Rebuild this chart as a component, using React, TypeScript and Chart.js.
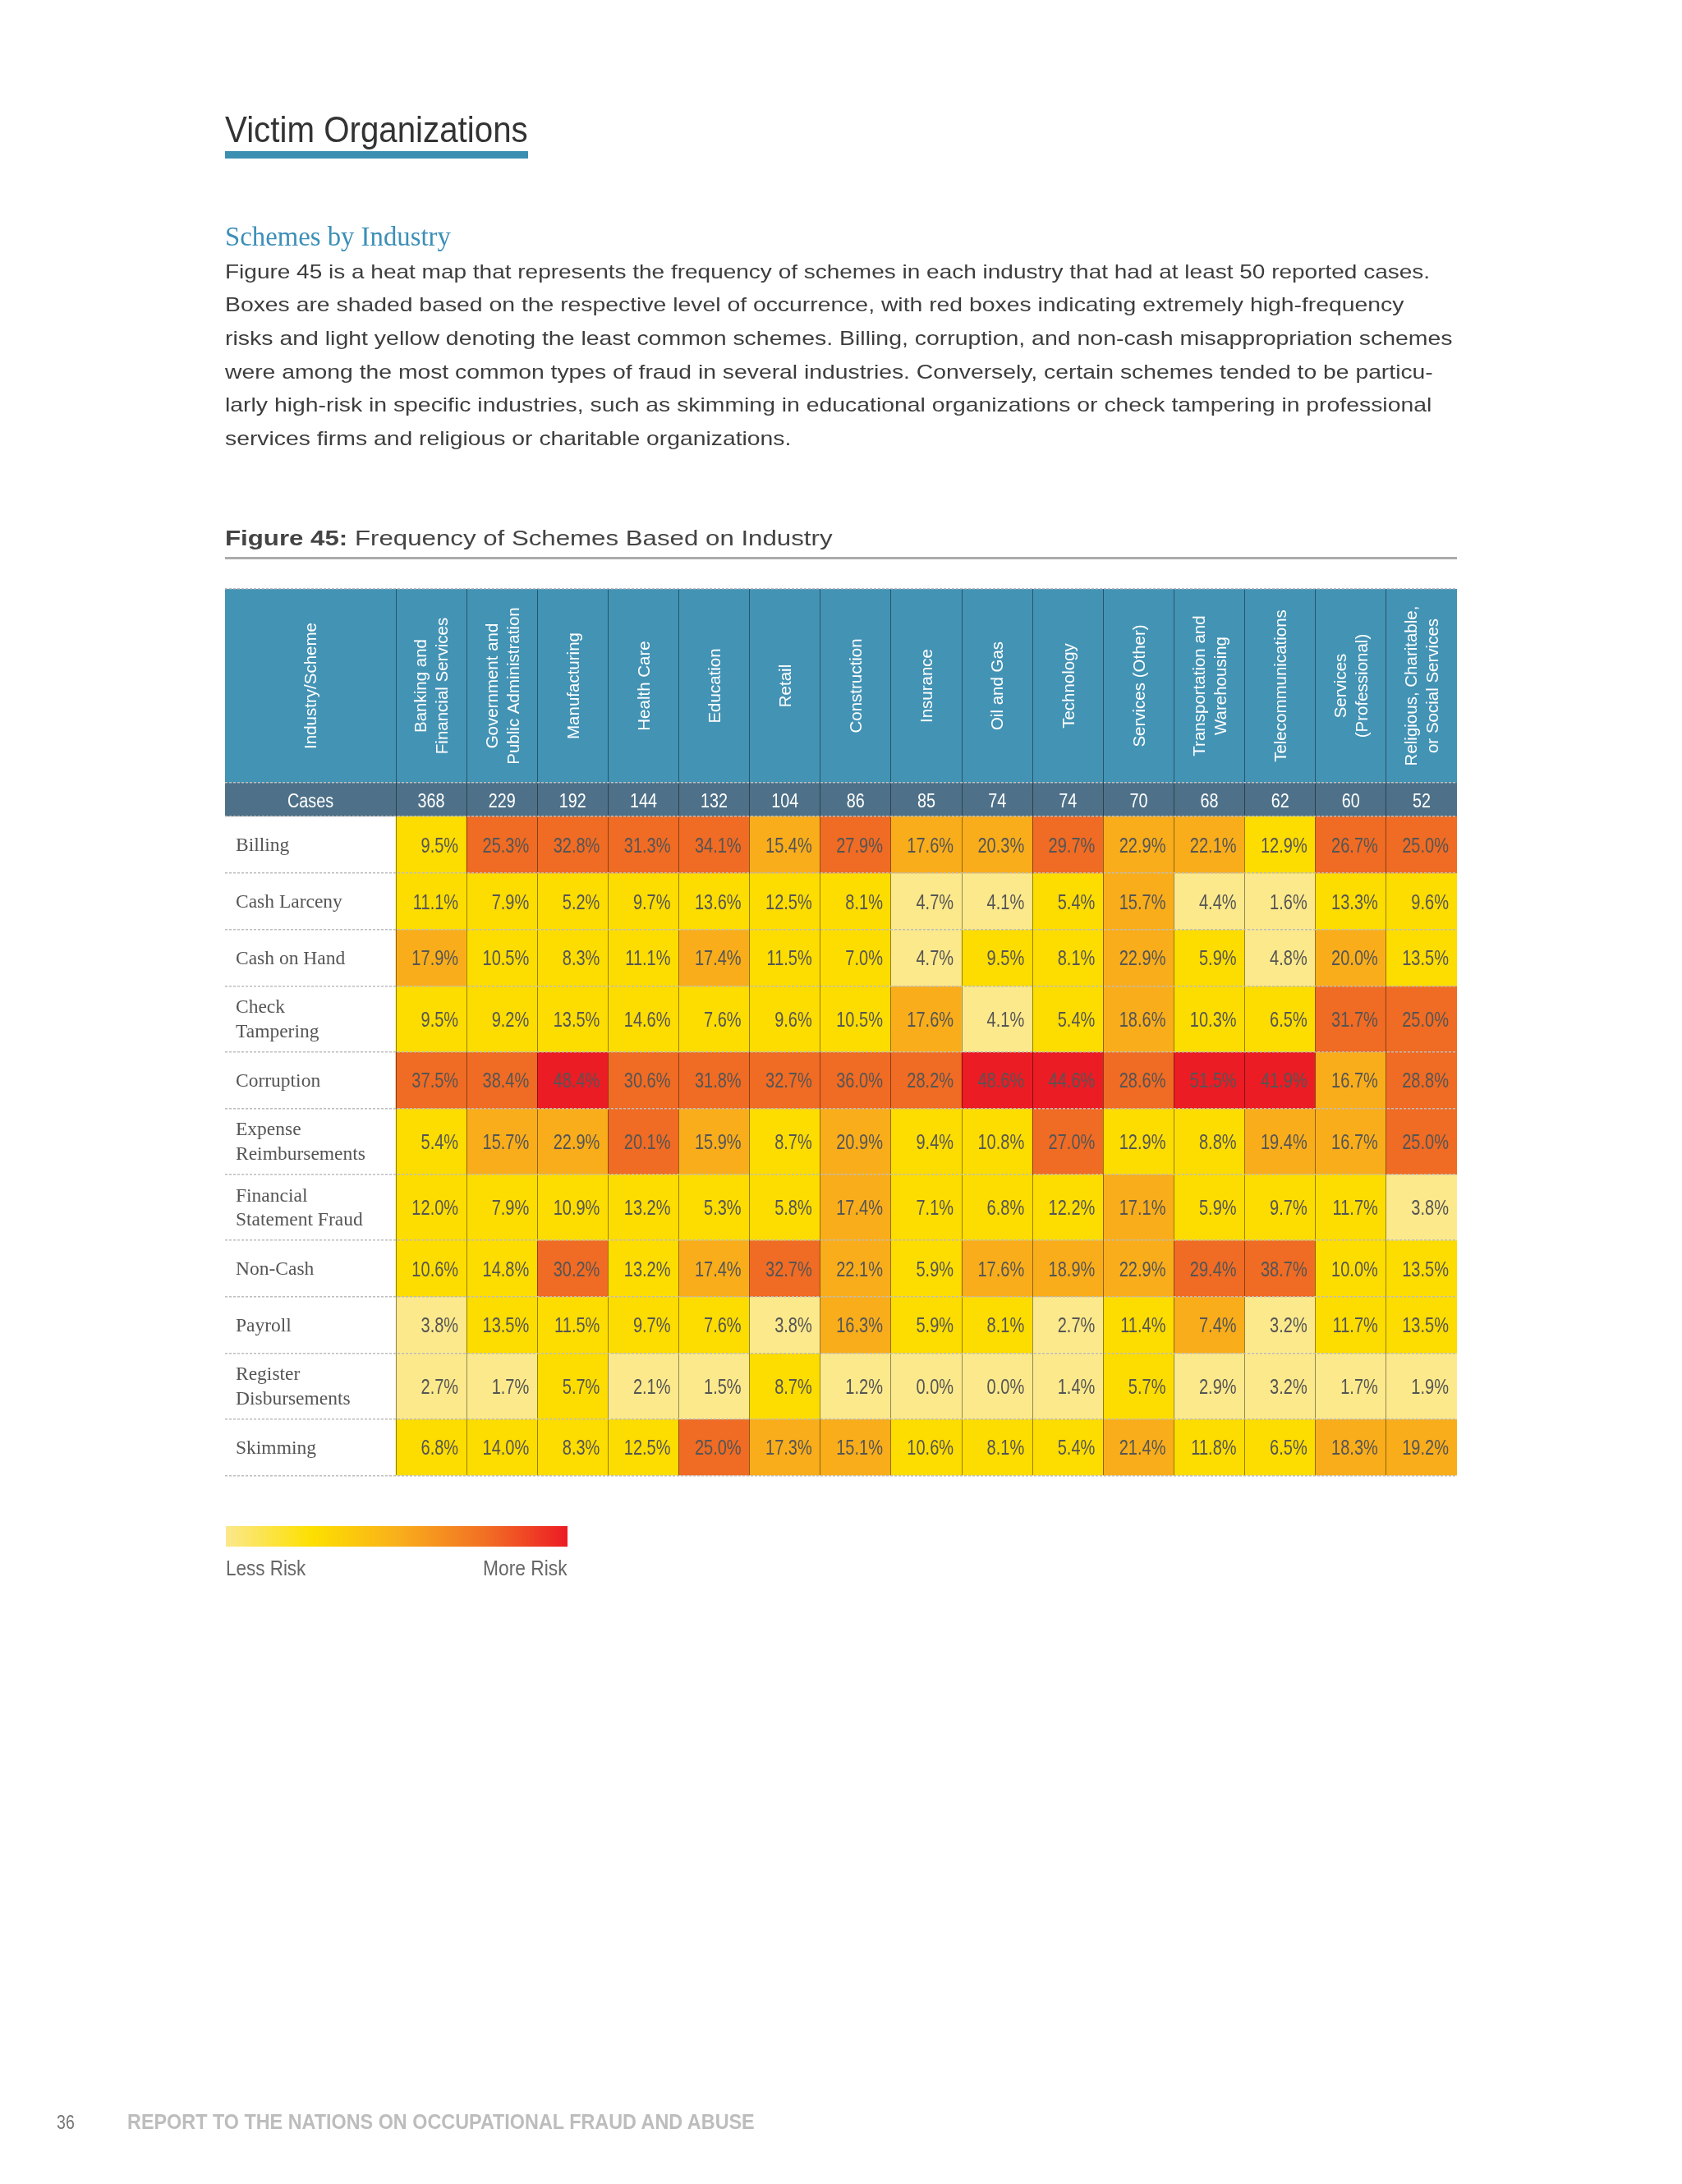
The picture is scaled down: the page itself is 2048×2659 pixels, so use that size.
import React, { useEffect, useLayoutEffect, useRef } from "react";
import { Chart, registerables } from "chart.js";

Chart.register(...registerables);

// ---------------- DATA ----------------
const industries: string[][] = [
  ["Banking and", "Financial Services"],
  ["Government and", "Public Administration"],
  ["Manufacturing"],
  ["Health Care"],
  ["Education"],
  ["Retail"],
  ["Construction"],
  ["Insurance"],
  ["Oil and Gas"],
  ["Technology"],
  ["Services (Other)"],
  ["Transportation and", "Warehousing"],
  ["Telecommunications"],
  ["Services", "(Professional)"],
  ["Religious, Charitable,", "or Social Services"],
];

const cases = [368, 229, 192, 144, 132, 104, 86, 85, 74, 74, 70, 68, 62, 60, 52];

const schemes: string[][] = [
  ["Billing"],
  ["Cash Larceny"],
  ["Cash on Hand"],
  ["Check", "Tampering"],
  ["Corruption"],
  ["Expense", "Reimbursements"],
  ["Financial", "Statement Fraud"],
  ["Non-Cash"],
  ["Payroll"],
  ["Register", "Disbursements"],
  ["Skimming"],
];

const billing = [9.5, 25.3, 32.8, 31.3, 34.1, 15.4, 27.9, 17.6, 20.3, 29.7, 22.9, 22.1, 12.9, 26.7, 25.0];
const cashLarceny = [11.1, 7.9, 5.2, 9.7, 13.6, 12.5, 8.1, 4.7, 4.1, 5.4, 15.7, 4.4, 1.6, 13.3, 9.6];
const cashOnHand = [17.9, 10.5, 8.3, 11.1, 17.4, 11.5, 7.0, 4.7, 9.5, 8.1, 22.9, 5.9, 4.8, 20.0, 13.5];
const checkTampering = [9.5, 9.2, 13.5, 14.6, 7.6, 9.6, 10.5, 17.6, 4.1, 5.4, 18.6, 10.3, 6.5, 31.7, 25.0];
const corruption = [37.5, 38.4, 48.4, 30.6, 31.8, 32.7, 36.0, 28.2, 48.6, 44.6, 28.6, 51.5, 41.9, 16.7, 28.8];
const expenseReimb = [5.4, 15.7, 22.9, 20.1, 15.9, 8.7, 20.9, 9.4, 10.8, 27.0, 12.9, 8.8, 19.4, 16.7, 25.0];
const financialStmt = [12.0, 7.9, 10.9, 13.2, 5.3, 5.8, 17.4, 7.1, 6.8, 12.2, 17.1, 5.9, 9.7, 11.7, 3.8];
const nonCash = [10.6, 14.8, 30.2, 13.2, 17.4, 32.7, 22.1, 5.9, 17.6, 18.9, 22.9, 29.4, 38.7, 10.0, 13.5];
const payroll = [3.8, 13.5, 11.5, 9.7, 7.6, 3.8, 16.3, 5.9, 8.1, 2.7, 11.4, 7.4, 3.2, 11.7, 13.5];
const registerDisb = [2.7, 1.7, 5.7, 2.1, 1.5, 8.7, 1.2, 0.0, 0.0, 1.4, 5.7, 2.9, 3.2, 1.7, 1.9];
const skimming = [6.8, 14.0, 8.3, 12.5, 25.0, 17.3, 15.1, 10.6, 8.1, 5.4, 21.4, 11.8, 6.5, 18.3, 19.2];

const values = [billing, cashLarceny, cashOnHand, checkTampering, corruption, expenseReimb, financialStmt, nonCash, payroll, registerDisb, skimming];

// shading level of each box (0 = least risk ... 4 = most risk)
const levelBilling = [1, 3, 3, 3, 3, 2, 3, 2, 2, 3, 2, 2, 1, 3, 3];
const levelCashLarceny = [1, 1, 1, 1, 1, 1, 1, 0, 0, 1, 2, 0, 0, 1, 1];
const levelCashOnHand = [2, 1, 1, 1, 2, 1, 1, 0, 1, 1, 2, 1, 0, 2, 1];
const levelCheck = [1, 1, 1, 1, 1, 1, 1, 2, 0, 1, 2, 1, 1, 3, 3];
const levelCorruption = [3, 3, 4, 3, 3, 3, 3, 3, 4, 4, 3, 4, 4, 2, 3];
const levelExpense = [1, 2, 2, 3, 2, 1, 2, 1, 1, 3, 1, 1, 2, 2, 3];
const levelFinancial = [1, 1, 1, 1, 1, 1, 2, 1, 1, 1, 2, 1, 1, 1, 0];
const levelNonCash = [1, 1, 3, 1, 2, 3, 2, 1, 2, 2, 2, 3, 3, 1, 1];
const levelPayroll = [0, 1, 1, 1, 1, 0, 2, 1, 1, 0, 1, 2, 0, 1, 1];
const levelRegister = [0, 0, 1, 0, 0, 1, 0, 0, 0, 0, 1, 0, 0, 0, 0];
const levelSkimming = [1, 1, 1, 1, 3, 2, 2, 1, 1, 1, 2, 1, 1, 2, 2];

const levels = [levelBilling, levelCashLarceny, levelCashOnHand, levelCheck, levelCorruption, levelExpense, levelFinancial, levelNonCash, levelPayroll, levelRegister, levelSkimming];

const riskColors = ["#FCE98C", "#FDDC00", "#F9AD1B", "#F06B23", "#EB1C24"];

const cornerLabel = "Industry/Scheme";
const casesLabel = "Cases";

const paragraph = [
  "Figure 45 is a heat map that represents the frequency of schemes in each industry that had at least 50 reported cases.",
  "Boxes are shaded based on the respective level of occurrence, with red boxes indicating extremely high-frequency",
  "risks and light yellow denoting the least common schemes. Billing, corruption, and non-cash misappropriation schemes",
  "were among the most common types of fraud in several industries. Conversely, certain schemes tended to be particu-",
  "larly high-risk in specific industries, such as skimming in educational organizations or check tampering in professional",
  "services firms and religious or charitable organizations.",
];

// ---------------- LAYOUT ----------------
const PAGE_W = 2048;
const PAGE_H = 2659;
const TABLE_LEFT = 274;
const TABLE_RIGHT = 1774;
const TABLE_TOP = 717;
const LABEL_COL_W = 208;
const HEADER_H = 236;
const CASES_H = 41;
const ROW_H_1 = 68.8;
const ROW_H_2 = 80.2;

const rowHeights = schemes.map((s) => (s.length > 1 ? ROW_H_2 : ROW_H_1));
const rowStarts: number[] = [];
let acc = HEADER_H + CASES_H;
for (const h of rowHeights) {
  rowStarts.push(acc);
  acc += h;
}
const TOTAL_H = acc;
const boundaries = [0, HEADER_H, HEADER_H + CASES_H, ...rowStarts.map((s, i) => s + rowHeights[i])];
const COL_W = (TABLE_RIGHT - TABLE_LEFT - LABEL_COL_W) / industries.length;
const LABEL_UNITS = LABEL_COL_W / COL_W;

const HEADER_BG = "#4393B5";
const CASES_BG = "#4E7189";
const SANS = '"Liberation Sans", Arial, Helvetica, sans-serif';
const SERIF = '"Liberation Serif", "Times New Roman", serif';

function drawText(
  ctx: CanvasRenderingContext2D,
  text: string,
  x: number,
  baseline: number,
  font: string,
  color: string,
  align: CanvasTextAlign,
  sx = 1
) {
  ctx.save();
  ctx.translate(x, baseline);
  ctx.scale(sx, 1);
  ctx.font = font;
  ctx.fillStyle = color;
  ctx.textAlign = align;
  ctx.textBaseline = "alphabetic";
  ctx.fillText(text, 0, 0);
  ctx.restore();
}

const tablePlugin = {
  id: "tableDeco",
  beforeDatasetsDraw(chart: any) {
    const { ctx, chartArea: a, scales } = chart;
    const y = scales.y;
    ctx.save();
    const y0 = y.getPixelForValue(0);
    const y1 = y.getPixelForValue(HEADER_H);
    const y2 = y.getPixelForValue(HEADER_H + CASES_H);
    ctx.fillStyle = HEADER_BG;
    ctx.fillRect(a.left, y0, a.right - a.left, y1 - y0);
    ctx.fillStyle = CASES_BG;
    ctx.fillRect(a.left, y1, a.right - a.left, y2 - y1);
    ctx.restore();
  },
  afterDraw(chart: any) {
    const { ctx, chartArea: a, scales } = chart;
    const x = scales.x;
    const y = scales.y;

    // header labels (rotated)
    const headerFont = `20.5px ${SANS}`;
    const capH = 0.716 * 20.5;
    const hcy = y.getPixelForValue(HEADER_H / 2);
    const drawRotated = (lines: string[], cx: number) => {
      lines.forEach((line, k) => {
        const lx = cx + (k - (lines.length - 1) / 2) * 26;
        ctx.save();
        ctx.translate(lx, hcy);
        ctx.rotate(-Math.PI / 2);
        ctx.font = headerFont;
        ctx.fillStyle = "#FFFFFF";
        ctx.textAlign = "center";
        ctx.textBaseline = "alphabetic";
        ctx.fillText(line, 0, capH / 2);
        ctx.restore();
      });
    };
    drawRotated([cornerLabel], x.getPixelForValue(-LABEL_UNITS / 2));
    industries.forEach((lines, j) => drawRotated(lines, x.getPixelForValue(j + 0.5)));

    // cases row
    const ccy = y.getPixelForValue(HEADER_H + CASES_H / 2) + (0.716 * 23) / 2 + 1;
    drawText(ctx, casesLabel, x.getPixelForValue(-LABEL_UNITS / 2), ccy, `23px ${SANS}`, "#FFFFFF", "center", 0.86);
    cases.forEach((c, j) => {
      drawText(ctx, String(c), x.getPixelForValue(j + 0.5), ccy, `23px ${SANS}`, "#FFFFFF", "center", 0.86);
    });

    // row labels
    schemes.forEach((lines, i) => {
      const cy = y.getPixelForValue(rowStarts[i] + rowHeights[i] / 2);
      lines.forEach((line, k) => {
        const ly = cy + (k - (lines.length - 1) / 2) * 29.7 + (0.662 * 23.5) / 2;
        drawText(ctx, line, a.left + 13, ly, `23.5px ${SERIF}`, "#555555", "left");
      });
    });

    // cell values
    chart.data.datasets.forEach((ds: any, i: number) => {
      const meta = chart.getDatasetMeta(i);
      meta.data.forEach((el: any, j: number) => {
        const v = ds.data[j].v as number;
        const right = el.x + el.width / 2 - 10;
        const cy = (el.y + el.base) / 2 + (0.716 * 26) / 2;
        drawText(ctx, v.toFixed(1) + "%", right, cy, `26px ${SANS}`, "#555555", "right", 0.77);
      });
    });
  },
};

function Fit(props: {
  x: number;
  baseline: number;
  w: number;
  size: number;
  family: string;
  asc: number;
  color: string;
  weight?: number;
  children: React.ReactNode;
}) {
  const ref = useRef<HTMLDivElement>(null);
  useLayoutEffect(() => {
    const el = ref.current;
    if (!el) return;
    const nat = el.offsetWidth;
    if (nat > 0) el.style.transform = `scaleX(${props.w / nat})`;
  }, [props.w]);
  return (
    <div
      ref={ref}
      style={{
        position: "absolute",
        left: props.x,
        top: props.baseline - props.asc * props.size,
        fontSize: props.size,
        lineHeight: `${props.size}px`,
        fontFamily: props.family,
        fontWeight: props.weight ?? 400,
        color: props.color,
        whiteSpace: "nowrap",
        transformOrigin: "left top",
      }}
    >
      {props.children}
    </div>
  );
}

const SANS_ASC = 0.8465;
const SERIF_ASC = 0.8375;
const paraBaselines = [339, 379.7, 420.4, 461.1, 501.8, 542.5];
const paraWidths = [1467, 1435, 1495, 1471, 1469, 689];

export default function App() {
  const canvasRef = useRef<HTMLCanvasElement>(null);

  useEffect(() => {
    const canvas = canvasRef.current;
    if (!canvas) return;
    const datasets = schemes.map((s, i) => ({
      label: s.join(" "),
      data: industries.map((_, j) => ({
        x: j + 0.5,
        y: [rowStarts[i], rowStarts[i] + rowHeights[i]],
        v: values[i][j],
      })),
      backgroundColor: levels[i].map((l) => riskColors[l]),
      borderWidth: 0,
      grouped: false,
      barPercentage: 1,
      categoryPercentage: 1,
    }));
    const chart = new Chart(canvas, {
      type: "bar",
      data: { datasets } as any,
      options: {
        animation: false,
        responsive: false,
        devicePixelRatio: 1,
        layout: {
          padding: {
            left: TABLE_LEFT,
            right: PAGE_W - TABLE_RIGHT,
            top: TABLE_TOP,
            bottom: PAGE_H - TABLE_TOP - TOTAL_H,
          },
        },
        plugins: { legend: { display: false }, tooltip: { enabled: false } },
        scales: {
          x: {
            type: "linear",
            offset: false,
            min: -LABEL_UNITS,
            max: industries.length,
            ticks: { display: false },
            grid: { z: 1, offset: false, color: "rgba(0,0,0,0.42)", lineWidth: 1, drawTicks: false },
            border: { display: false },
            afterBuildTicks: (s: any) => {
              s.ticks = industries.map((_, j) => ({ value: j }));
            },
            afterFit: (s: any) => {
              s.height = 0;
            },
          },
          y: {
            type: "linear",
            offset: false,
            reverse: true,
            min: 0,
            max: TOTAL_H,
            ticks: { display: false },
            grid: { z: 2, offset: false, color: "#BDBDBD", lineWidth: 1.5, drawTicks: false },
            border: { display: false, dash: [3, 2] },
            afterBuildTicks: (s: any) => {
              s.ticks = boundaries.map((v) => ({ value: v }));
            },
            afterFit: (s: any) => {
              s.width = 0;
            },
          },
        },
      } as any,
      plugins: [tablePlugin],
    });
    return () => chart.destroy();
  }, []);

  return (
    <div
      style={{
        position: "absolute",
        left: 0,
        top: 0,
        width: PAGE_W,
        height: PAGE_H,
        background: "#FFFFFF",
        overflow: "hidden",
      }}
    >
      <canvas
        ref={canvasRef}
        width={PAGE_W}
        height={PAGE_H}
        style={{ position: "absolute", left: 0, top: 0, width: PAGE_W, height: PAGE_H }}
      />
      <Fit x={274} baseline={173} w={369} size={44} family={SANS} asc={SANS_ASC} color="#333333">
        Victim Organizations
      </Fit>
      <div style={{ position: "absolute", left: 274, top: 184, width: 369, height: 9, background: "#3D8FB2" }} />
      <Fit x={274} baseline={300} w={275} size={33} family={SERIF} asc={SERIF_ASC} color="#3C8FB8">
        Schemes by Industry
      </Fit>
      {paragraph.map((line, k) => (
        <Fit key={k} x={274} baseline={paraBaselines[k]} w={paraWidths[k]} size={24} family={SANS} asc={SANS_ASC} color="#3D3D3D">
          {line}
        </Fit>
      ))}
      <Fit x={274} baseline={664} w={740} size={26} family={SANS} asc={SANS_ASC} color="#444444">
        <b>Figure 45:</b> Frequency of Schemes Based on Industry
      </Fit>
      <div style={{ position: "absolute", left: 274, top: 678, width: 1500, height: 3, background: "#ABABAB" }} />
      <div
        style={{
          position: "absolute",
          left: 275,
          top: 1858,
          width: 416,
          height: 25,
          background: "linear-gradient(to right, #FBE88C 0%, #FDE000 25%, #F9B01B 50%, #F26F24 76%, #EC1C24 100%)",
        }}
      />
      <Fit x={275} baseline={1918} w={97} size={25} family={SANS} asc={SANS_ASC} color="#666666">
        Less Risk
      </Fit>
      <Fit x={588} baseline={1918} w={103} size={25} family={SANS} asc={SANS_ASC} color="#666666">
        More Risk
      </Fit>
      <Fit x={69} baseline={2592} w={22} size={24} family={SANS} asc={SANS_ASC} color="#777777">
        36
      </Fit>
      <Fit x={155} baseline={2592} w={764} size={25} weight={700} family={SANS} asc={SANS_ASC} color="#BDBDBD">
        REPORT TO THE NATIONS ON OCCUPATIONAL FRAUD AND ABUSE
      </Fit>
    </div>
  );
}
